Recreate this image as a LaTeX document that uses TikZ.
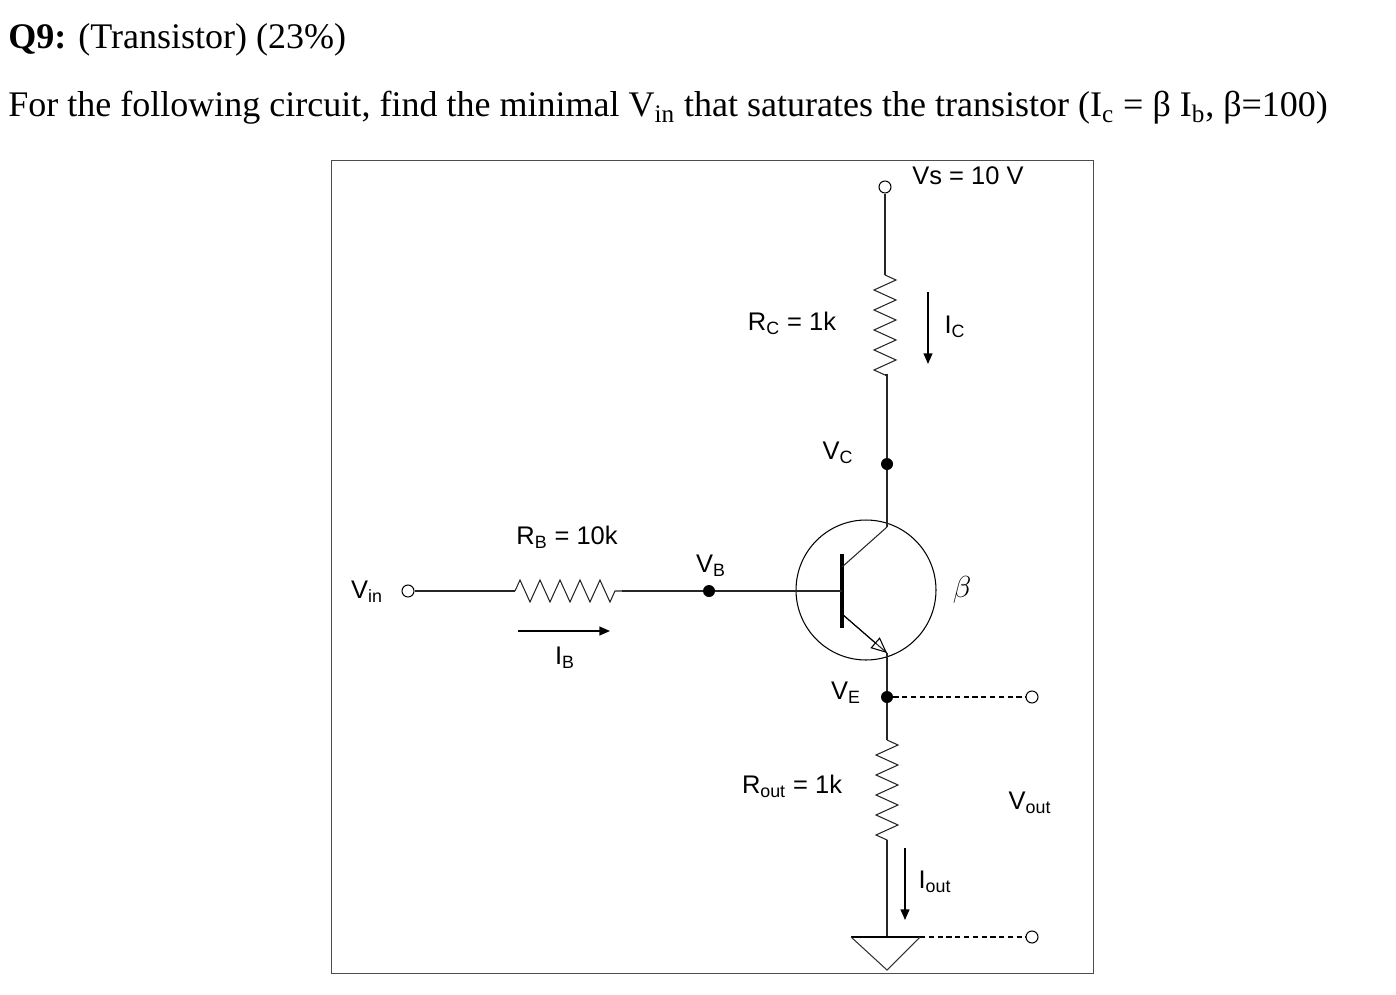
\documentclass[tikz,border=0pt]{standalone}
\usepackage{fontspec}
\setmainfont{Liberation Serif}
\setsansfont{Liberation Sans}
\usetikzlibrary{decorations.pathmorphing,arrows.meta}
\begin{document}
\begin{tikzpicture}[x=0.02cm,y=-0.02cm,
  wire/.style={line width=0.6pt,black!85},
  res/.style={wire,decorate,decoration={zigzag,segment length=0.4cm,amplitude=0.22cm}},
  term/.style={circle,draw,line width=0.6pt,inner sep=0pt,minimum size=0.24cm,fill=white},
  jdot/.style={circle,fill=black,inner sep=0pt,minimum size=0.24cm},
  lab/.style={font=\sffamily\fontsize{14.5}{16}\selectfont,inner sep=0pt},
  cur/.style={line width=0.8pt,-{Triangle[length=6pt,width=5pt]}},
  dsh/.style={line width=0.6pt,dash pattern=on 3pt off 2pt}]
\useasboundingbox (0,0) rectangle (1396,994);
\node[anchor=west,inner sep=0pt,font=\fontsize{20.5}{24}\selectfont] (q) at (8,40) {\textbf{Q9:} (Transistor) (23\%)};
\node[anchor=west,inner sep=0pt,font=\fontsize{20.5}{24}\selectfont] (t) at (8,108) {For the following circuit, find the minimal V\textsubscript{in} that saturates the transistor (I\textsubscript{c} = β I\textsubscript{b}, β=100)};
\node[draw,line width=0.6pt,black!70,minimum width=15.24cm,minimum height=16.26cm,anchor=north west,inner sep=0pt] (frame) at (331,160) {};
% collector branch
\node[term] (vs) at (885,187) {};
\node[lab,anchor=west] (vsl) at (912,176) {Vs = 10 V};
\coordinate (rct) at (885,275);
\coordinate (rcb) at (885,375);
\draw[wire] (vs) -- (rct);
\draw[res] (rct) -- (rcb);
\node[jdot] (vc) at (887,464) {};
\draw[wire] (rcb) -- (887,375) -- (vc);
\node[lab] (rcl) at (792,323) {R\textsubscript{C} = 1k};
\node[lab] (vcl) at (838,453) {V\textsubscript{C}};
\coordinate (ic1) at (928,292); \coordinate (ic2) at (928,364);
\draw[cur] (ic1) -- (ic2);
\node[lab] (icl) at (955,327) {I\textsubscript{C}};
% transistor
\node[circle,draw,line width=0.6pt,minimum size=2.8cm,inner sep=0pt] (q1) at (866,590) {};
\coordinate (ctop) at (887,527); \coordinate (ebot) at (887,653);
\draw[wire] (vc) -- (ctop);
\draw[line width=1.8pt] (842,554) -- (842,628);
\draw[wire] (842,567) -- (ctop);
\draw[wire] (842,614) -- (ebot);
\draw[line width=0.6pt,-{Triangle[open,length=9pt,width=8pt]}] (842,614) -- (ebot);
\node[lab,font=\fontsize{17}{18}\selectfont] (beta) at (962,590) {$\beta$};
% base branch
\node[lab] (vinl) at (367,592) {V\textsubscript{in}};
\node[term] (vin) at (408,591) {};
\coordinate (rbl) at (515,591); \coordinate (rbr) at (622,591);
\draw[wire] (vin) -- (rbl);
\draw[res] (rbl) -- (rbr);
\node[jdot] (vb) at (709,591) {};
\draw[wire] (rbr) -- (vb) -- (842,591);
\node[lab] (rbll) at (567,537) {R\textsubscript{B} = 10k};
\node[lab] (vbl) at (711,566) {V\textsubscript{B}};
\coordinate (ib1) at (518,631); \coordinate (ib2) at (610,631);
\draw[cur] (ib1) -- (ib2);
\node[lab] (ibl) at (565,658) {I\textsubscript{B}};
% emitter branch
\node[jdot] (ve) at (887,697) {};
\draw[wire] (ebot) -- (ve);
\node[lab] (vel) at (846,693) {V\textsubscript{E}};
\node[term] (vo1) at (1032,697) {};
\draw[dsh] (ve) -- (vo1);
\coordinate (rot) at (887,740); \coordinate (rob) at (887,840);
\draw[wire] (ve) -- (rot);
\draw[res] (rot) -- (rob);
\coordinate (gnd) at (887,937);
\draw[wire] (rob) -- (gnd);
\node[lab] (rol) at (792,786) {R\textsubscript{out} = 1k};
\node[lab] (voutl) at (1030,803) {V\textsubscript{out}};
\coordinate (io1) at (905,848); \coordinate (io2) at (905,920);
\draw[cur] (io1) -- (io2);
\node[lab] (iol) at (935,882) {I\textsubscript{out}};
\draw[line width=1.4pt] (851,937) -- (920,937);
\draw[line width=0.6pt,black!80] (851,937) -- (887,970) -- (920,937);
\node[term] (vo2) at (1032,937) {};
\draw[dsh] (920,937) -- (vo2);
\end{tikzpicture}
\end{document}
